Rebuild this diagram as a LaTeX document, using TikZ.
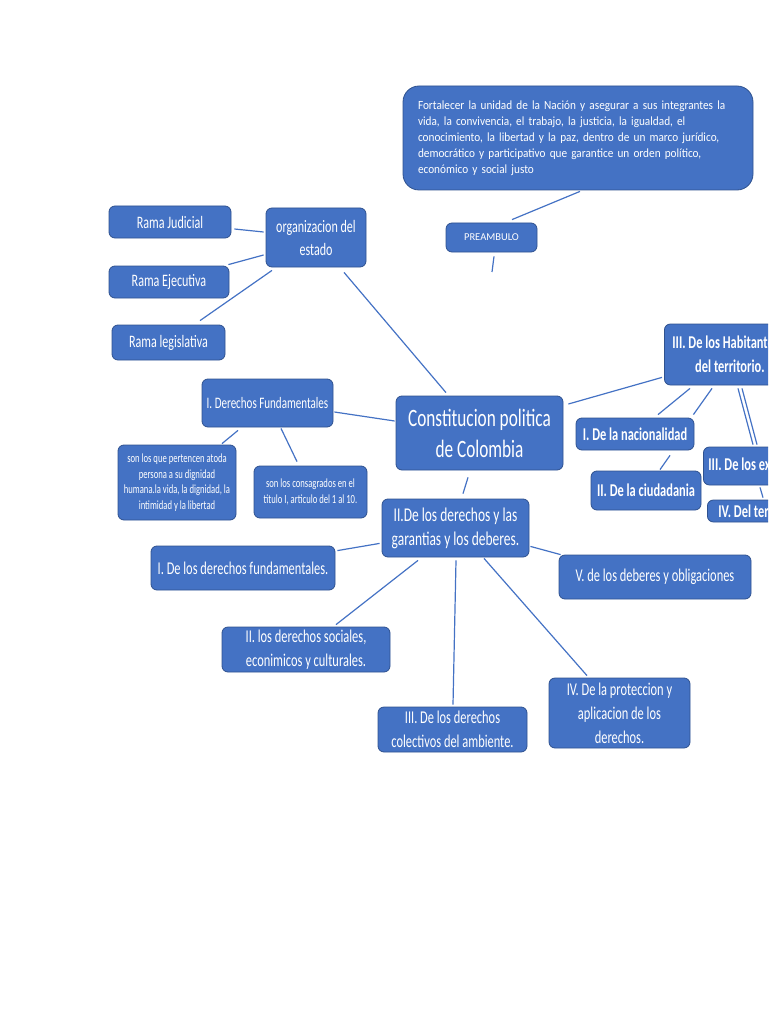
\documentclass[tikz,border=0pt]{standalone}
\usepackage{fontspec}
\setmainfont[FakeStretch=0.69]{Carlito}
\newfontfamily\fT[FakeStretch=0.9]{Carlito}
\newfontfamily\fN{Carlito}
\usetikzlibrary{calc}
\definecolor{boxblue}{HTML}{4472C4}
\definecolor{edgeblue}{HTML}{2F528F}
\tikzset{
  box/.style={draw=edgeblue, line width=0.8, fill=boxblue, rounded corners=6,
    text=white, align=center, inner sep=0},
  link/.style={draw=boxblue, line width=1.2},
  fCPC/.style={font=\fontsize{25}{31}\selectfont},
  fMid/.style={font=\fontsize{19.5}{24}\selectfont},
  fBot/.style={font=\fontsize{18}{24}\selectfont},
  fRama/.style={font=\fontsize{17.5}{23}\selectfont},
  fRight/.style={font=\bfseries\fontsize{18}{24}\selectfont},
  fSmall/.style={font=\fontsize{12.5}{15.5}\selectfont},
}
\begin{document}
\begin{tikzpicture}[x=1pt,y=1pt]
\useasboundingbox (0,0) rectangle (768,-1024);
\clip (0,0) rectangle (768,-1024);

% preamble
\node[box, rounded corners=16, minimum width=350, minimum height=104,
  text width=320, align=left, font=\fT\fontsize{12.5}{16}\selectfont]
  (fort) at (578,-138)
  {Fortalecer la unidad de la Nación y asegurar a sus integrantes la\\
   vida, la convivencia, el trabajo, la justicia, la igualdad, el\\
   conocimiento, la libertad y la paz, dentro de un marco jurídico,\\
   democrático y participativo que garantice un orden político,\\
   económico y social justo};
\node[box, minimum width=91, minimum height=29, font=\fN\fontsize{10.5}{12}\selectfont]
  (pre) at (491.5,-237.5) {PREAMBULO};
\coordinate (preend) at (492,-272);

% organizacion del estado
\node[box, fRama, minimum width=122, minimum height=32] (rj) at (170,-222) {Rama Judicial};
\node[box, fRama, minimum width=120, minimum height=32] (re) at (169,-282) {Rama Ejecutiva};
\node[box, fRama, minimum width=113, minimum height=35] (rl) at (168.5,-342.5) {Rama legislativa};
\node[box, fRama, minimum width=100, minimum height=59] (org) at (316,-237.5) {organizacion del\\estado};

% centre
\node[box, fCPC, minimum width=167, minimum height=74] (cpc) at (479.5,-433) {Constitucion politica\\de Colombia};

% derechos fundamentales
\node[box, font=\fontsize{16}{20}\selectfont, minimum width=131, minimum height=48] (df) at (267.5,-403) {I. Derechos Fundamentales};
\node[box, fSmall, minimum width=118, minimum height=75] (sq) at (177,-482.5)
  {son los que pertencen atoda\\persona a su dignidad\\humana.la vida, la dignidad, la\\intimidad y la libertad};
\node[box, fSmall, minimum width=113, minimum height=52] (sc) at (310.5,-492)
  {son los consagrados en el\\titulo I, articulo del 1 al 10.};

% habitantes
\node[box, fRight, anchor=west, inner xsep=8, minimum height=61] (hab) at (664,-354.5)
  {III. De los Habitantes y\\del territorio.};
\node[box, fRight, minimum width=118, minimum height=32] (nac) at (635,-434) {I. De la nacionalidad};
\node[box, fRight, minimum width=110, minimum height=39] (ciud) at (646,-490.5) {II. De la ciudadania};
\node[box, fRight, anchor=west, inner xsep=5, minimum height=38] (ex) at (703,-466) {III. De los extranjeros};
\node[box, fRight, anchor=west, inner xsep=11, minimum height=22] (tr) at (707,-511) {IV. Del territorio};

% derechos y garantias
\node[box, fMid, minimum width=147, minimum height=58] (dd) at (455.5,-528) {II.De los derechos y las\\garantias y los deberes.};
\node[box, fBot, minimum width=184, minimum height=44] (dfund) at (243,-568) {I. De los derechos fundamentales.};
\node[box, fBot, minimum width=192, minimum height=44] (v) at (655,-577) {V. de los deberes y obligaciones};
\node[box, fBot, minimum width=168, minimum height=45] (soc) at (306,-649.5) {II. los derechos sociales,\\econimicos y culturales.};
\node[box, fBot, minimum width=149, minimum height=45] (col) at (452.5,-729.5) {III. De los derechos\\colectivos del ambiente.};
\node[box, fBot, minimum width=141, minimum height=70] (prot) at (619.5,-713) {IV. De la proteccion y\\aplicacion de los\\derechos.};

% connectors
\draw[link] ($(fort.south)+(2,-1)$) -- ($(pre.north)+(20.5,3)$);
\draw[link] ($(pre.south)+(2.5,-4)$) -- (preend);
\draw[link] ($(rj.east)+(3,-7)$) -- ($(org.west)+(-2,5.5)$);
\draw[link] ($(re.north east)+(-1,1)$) -- ($(org.west)+(-2,-17.5)$);
\draw[link] ($(rl.north)+(31.5,4)$) -- ($(org.south)+(-44,-3)$);
\draw[link] ($(org.south)+(28,-5)$) -- ($(cpc.north)+(-33.5,3)$);
\draw[link] ($(df.east)+(1,-9)$) -- ($(cpc.west)+(-1,12)$);
\draw[link] ($(df.south)+(-29.5,-3)$) -- ($(sq.north)+(45,1)$);
\draw[link] ($(df.south)+(13.5,-1)$) -- ($(sc.north)+(-13.5,4)$);
\draw[link] ($(cpc.south)+(-11.5,-7)$) -- ($(dd.north)+(7.5,5)$);
\draw[link] ($(cpc.east)+(5,29)$) -- ($(hab.south west)+(-2,8)$);
\draw[link] ($(hab.south west)+(26,-3)$) -- ($(nac.north)+(23,3)$);
\draw[link] ($(hab.south west)+(48,-3)$) -- ($(nac.north east)+(-1,3)$);
\draw[link] ($(nac.south)+(35,-5)$) -- ($(ciud.north)+(14,1)$);
\draw[link] ($(hab.south west)+(74,-3)$) -- ($(ex.north west)+(50,2)$);
\draw[link] ($(hab.south west)+(78,-3)$) -- ($(ex.north west)+(54,2)$);
\draw[link] ($(ex.south west)+(57,-2)$) -- ($(tr.north west)+(56,2)$);
\draw[link] ($(dd.south west)+(-2,14)$) -- ($(dfund.north east)+(2,-5)$);
\draw[link] ($(dd.south east)+(1,11)$) -- ($(v.north west)+(2,0)$);
\draw[link] ($(dd.south)+(-37.5,-3)$) -- ($(soc.north)+(30,2)$);
\draw[link] ($(dd.south)+(0.5,-3)$) -- ($(col.north)+(0.5,2)$);
\draw[link] ($(dd.south)+(28.5,-1)$) -- ($(prot.north)+(-32.5,2)$);
\end{tikzpicture}
\end{document}
